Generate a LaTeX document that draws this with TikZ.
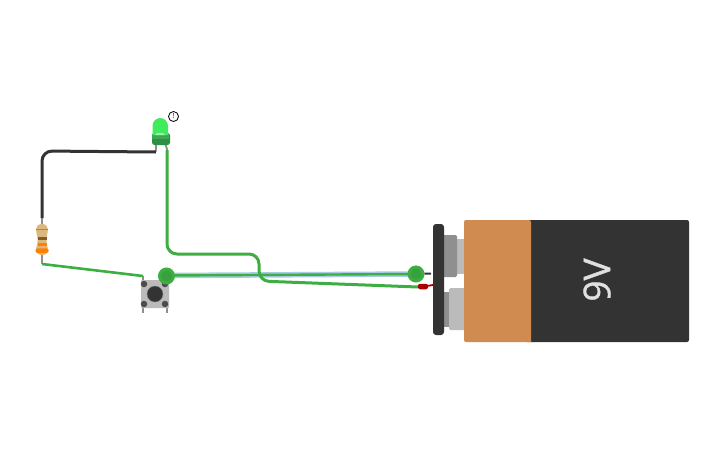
\documentclass[tikz,border=0pt]{standalone}
\usepackage{fontspec}
\setmainfont{Open Sans}
\definecolor{wiregreen}{HTML}{3DAE41}
\definecolor{wiredark}{HTML}{333333}
\definecolor{wireblue}{HTML}{A9CBE6}
\definecolor{leadgray}{HTML}{8F8F8F}
\definecolor{metal}{HTML}{BBBBBB}
\definecolor{copper}{HTML}{D08C50}
\definecolor{tan}{HTML}{DDB87E}
\definecolor{ledbase}{HTML}{2F8F42}
\definecolor{ledrim}{HTML}{3FA653}
\definecolor{leddome}{HTML}{3FEC5C}
\begin{document}
\begin{tikzpicture}%
	[x=1pt,
	y=-1pt,
	wire/.style={line width=3pt, rounded corners=10pt},
	lead/.style={color=leadgray, line width=1.8pt},
	pin/.style={circle,draw=wiregreen,fill=wiregreen!92!black,line width=3pt,inner sep=0pt,minimum size=14pt},
	band/.style={inner sep=0pt,minimum height=2pt},
	stud/.style={circle,fill=black!70,inner sep=0pt,minimum size=6.5pt}]
%
\useasboundingbox (0,0) rectangle (725,453);
%%
%% Coordinate of the wire ends:
%%
\coordinate (ledleft) at (156,152);
\coordinate (ledright) at (167,150);
\coordinate (resistortop) at (42,218);
\coordinate (resistorbottom) at (42,264);
\coordinate (buttonleg) at (143,276);
\coordinate (redlead) at (418,287);
%%
%%
%% Drawing the battery
%%
\fill[color=metal] (457,239) rectangle (465,274);
\fill[color=leadgray, rounded corners=1.5pt] (442,235) rectangle (457,277);
\fill[color=leadgray] (442,292) rectangle (450,327);
\fill[color=metal, rounded corners=1.5pt] (449,288) rectangle (466,330);
\fill[color=wiredark, rounded corners=3pt] (433,224) rectangle (444,335);
\fill[color=wiredark, rounded corners=2pt] (525,220) rectangle (689,342);
\fill[color=copper, rounded corners=2pt] (464,220) -- (531,220) [sharp corners] -- (531,342) [rounded corners=2pt] -- (464,342) -- cycle;
\node[rotate=90, text=black!12, font=\fontsize{37}{37}\selectfont\addfontfeature{FakeBold=1}, inner sep=0pt] (voltage) at (597,280) {9V};
%%
%%
%% Drawing the button
%%
\foreach \legx in {143,167} {
	\draw[lead] (\legx,276) -- (\legx,282);
	\draw[lead] (\legx,306) -- (\legx,313);
}
\node[fill=metal,inner sep=0pt,minimum width=28pt,minimum height=28pt,rounded corners=1pt] (button) at (155,294) {};
\node[stud] (studa) at (144,284) {};
\node[stud] (studb) at (165,284) {};
\node[stud] (studc) at (144,304) {};
\node[stud] (studd) at (165,304) {};
\node[circle,fill=wiredark,draw=black!50,inner sep=0pt,minimum size=16pt] (cap) at (155,294) {};
%%
%%
%% Drawing the resistor
%%
\draw[lead] (resistortop) -- (resistorbottom);
\fill[color=tan, rounded corners=3pt] (38,224) -- (46,224) -- (48.5,230) -- (46.5,236) -- (46.5,244) -- (48.5,250) -- (46,255) -- (38,255) -- (35.5,250) -- (37.5,244) -- (37.5,236) -- (35.5,230) -- cycle;
\node[band,fill=olive!80!yellow,minimum width=12pt,minimum height=1.5pt] (banda) at (42,229.5) {};
\node[band,fill=brown!70!black,minimum width=9pt,minimum height=3pt] (bandb) at (42,238) {};
\node[band,fill=orange,minimum width=9pt,minimum height=3pt] (bandc) at (42,244) {};
\node[band,fill=orange,minimum width=13pt,minimum height=4.5pt,rounded corners=1.5pt] (bandd) at (42,250.5) {};
%%
%%
%% Drawing the LED
%%
\draw[lead, rounded corners=2pt] (156,143) -- (156,152) -- (152,152);
\draw[lead, rounded corners=2pt] (164,143) -- (167,147) -- (167,152);
\fill[color=ledbase, rounded corners=2.5pt] (152,133) rectangle (170,145);
\fill[color=ledrim] (152,134) rectangle (169,139);
\fill[color=leddome] (152.5,135) -- (152.5,126) arc[start angle=180, end angle=0, x radius=7.75pt, y radius=8pt] -- (168,135) -- cycle;
\fill[color=leddome!50!white] (155,135) -- (165,135) -- (163,133) -- (157,133) -- cycle;
\node[circle,draw=black,fill=white,line width=.8pt,inner sep=0pt,minimum size=10pt,font=\fontsize{7}{7}\selectfont] (warning) at (173.5,116.5) {!};
%%
%%
%% Drawing the wires
%%
\draw[wire,color=wiredark] (ledleft) -- (42,151) -- (resistortop);
\draw[wire,color=wiregreen,rounded corners=0pt,line width=2.6pt] (resistorbottom) -- (buttonleg);
\draw[wire,color=wireblue,rounded corners=0pt,line width=5.5pt] (166,275.5) -- (416,274);
\draw[wire,color=wiregreen,rounded corners=0pt,line width=2.4pt] (166,275.5) -- (416,274);
\draw[wire,color=wiregreen] (ledright) -- (167,254) -- (259,254) -- (259,281) -- (redlead);
%%
%%
%% Drawing the terminals
%%
\node[pin] (pinbutton) at (166.5,276) {};
\node[pin] (pinbattery) at (416,274) {};
\draw[color=wiredark, line width=2pt] (pinbattery) -- (431,273.5);
\draw[color=red!65!black, line width=1.8pt] (420,287) -- (433,285);
\node[fill=red!65!black,inner sep=0pt,minimum width=10pt,minimum height=5.5pt,rounded corners=2pt] (redclip) at (423,286.5) {};
%%
%%
\end{tikzpicture}
\end{document}
